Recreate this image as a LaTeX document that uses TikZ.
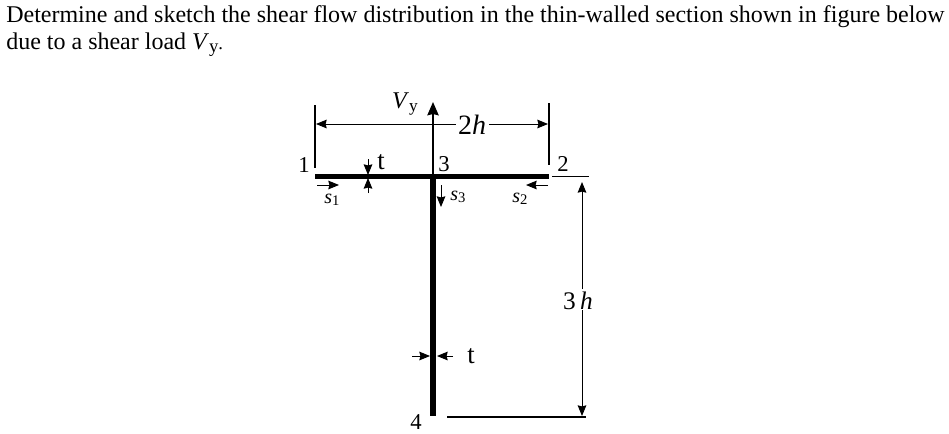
\documentclass[tikz,border=0pt]{standalone}
\usepackage{fontspec}
\setmainfont{Liberation Serif}
\usetikzlibrary{arrows.meta}
\tikzset{
  wall/.style={line width=4.2pt},
  dimline/.style={line width=0.75pt, -{Stealth[length=8pt,width=6.5pt,inset=0.8pt]}},
  thinline/.style={line width=0.8pt},
  lbl/.style={inner sep=0pt, font=\fontsize{16}{16}\selectfont},
  sub/.style={inner sep=0pt, font=\fontsize{15}{15}\selectfont\itshape}
}
\begin{document}
\begin{tikzpicture}[x=0.75pt, y=-0.75pt]
      \useasboundingbox (0,0) rectangle (949,433);

      % problem statement
      \node [anchor=base west, inner sep=0pt, font=\fontsize{18}{18}\selectfont] (line1) at (6,22.5)
      {Determine and sketch the shear flow distribution in the thin-walled section shown in figure below};
      \node [anchor=base west, inner sep=0pt, font=\fontsize{18}{18}\selectfont] (line2) at (6,49.5)
      {due to a shear load \textit{V}\fontsize{14}{14}\selectfont\raisebox{-2pt}{y}.};

      % flange and web
      \draw[wall] (315,176.5) -- (549,176.5);
      \draw[wall] (433,176) -- (433,416);

      % the load
      \draw[line width=1.3pt, -{Stealth[length=10pt,width=8.5pt,inset=1pt]}] (433,176) -- (433,102);
      \node [lbl, font=\fontsize{18}{18}\selectfont] (load) at (405,104) {\textit{V}\fontsize{13}{13}\selectfont\raisebox{-2pt}{y}};

      % width of the flange
      \draw[thinline] (315,105) -- (315,168);
      \draw[thinline] (549,103) -- (549,165);
      \node [lbl, font=\fontsize{21}{21}\selectfont] (width) at (472,125) {2\textit{h}};
      \draw[dimline] (width.west) ++(-2,-1) -- (316,124);
      \draw[dimline] (width.east) ++(3,-1) -- (548,124);

      % height of the web
      \draw[thinline] (552,176.5) -- (589,176.5);
      \draw[thinline] (447,417) -- (586,417);
      \node [lbl, font=\fontsize{19}{19}\selectfont] (height) at (578,301) {3\,\textit{h}};
      \draw[dimline] (582,289) -- (582,182);
      \draw[dimline] (582,310) -- (582,416);

      % point labels
      \node [lbl, font=\fontsize{17}{17}\selectfont] (p1) at (304,165) {1};
      \node [lbl, font=\fontsize{17}{17}\selectfont] (p2) at (563,164) {2};
      \node [lbl, font=\fontsize{17}{17}\selectfont] (p3) at (444,164) {3};
      \node [lbl, font=\fontsize{17}{17}\selectfont] (p4) at (416,422) {4};

      % thickness of the flange
      \draw[dimline] (368,159) -- (368,175);
      \draw[dimline] (368,193) -- (368,178);
      \node [lbl, font=\fontsize{20}{20}\selectfont] (tflange) at (381,162) {t};

      % thickness of the web
      \draw[dimline] (412,356) -- (430,356);
      \draw[dimline] (453,356) -- (437,356);
      \node [lbl, font=\fontsize{20}{20}\selectfont] (tweb) at (471,356) {t};

      % the s coordinates
      \draw[dimline] (317,185) -- (339,185);
      \node [sub] (s1) at (332,200) {s\fontsize{11}{11}\selectfont\upshape\raisebox{-1.5pt}{1}};
      \draw[dimline] (548,185) -- (526,185);
      \node [sub] (s2) at (520,199) {s\fontsize{11}{11}\selectfont\upshape\raisebox{-1.5pt}{2}};
      \draw[dimline] (441,185) -- (441,207);
      \node [sub] (s3) at (458,197) {s\fontsize{11}{11}\selectfont\upshape\raisebox{-1.5pt}{3}};
\end{tikzpicture}
\end{document}
